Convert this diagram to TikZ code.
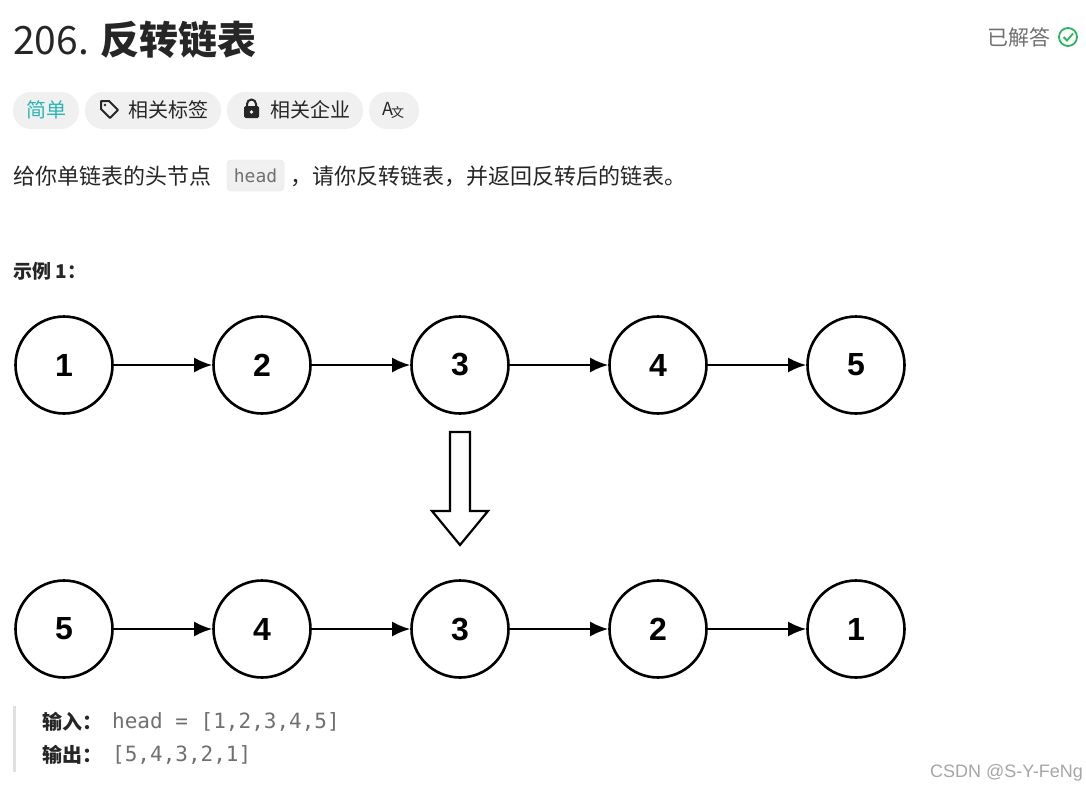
\documentclass[tikz,border=0pt]{standalone}
\usepackage{fontspec}
\setmainfont{Noto Sans CJK SC}
\newfontfamily\monof{DejaVu Sans Mono}
\newfontfamily\numf{Liberation Sans}
\usetikzlibrary{arrows.meta}
\definecolor{txt}{HTML}{262626}
\definecolor{gry}{HTML}{707070}
\definecolor{pill}{HTML}{F0F0F0}
\definecolor{teal}{HTML}{2DB5B5}
\definecolor{okg}{HTML}{2DB55D}
\tikzset{
  ln/.style={circle,draw=black,line width=2.6pt,minimum size=97pt,inner sep=0pt,font=\numf\bfseries\fontsize{32}{32}\selectfont},
  ar/.style={line width=2.4pt,-{Latex[length=18pt,width=15pt]}},
  pl/.style={fill=pill,rounded corners=18pt},
  tx/.style={anchor=west,inner sep=0pt,text=txt}
}
\begin{document}
\begin{tikzpicture}[x=1pt,y=-1pt]
\useasboundingbox (0,0) rectangle (1086,790);
\fill[white] (0,0) rectangle (1086,790);
\node[tx,font=\fontsize{39}{39}\selectfont] (title) at (13,40) {206. \textbf{反转链表}};
\node[anchor=east,inner sep=0pt,text=gry,font=\fontsize{21}{21}\selectfont] (solved) at (1051,38) {已解答};
\draw[okg,line width=1.8pt] (1068,37) circle (9);
\draw[okg,line width=1.8pt] (1063.5,37) -- (1067,40.5) -- (1073,33.5);
% pills
\fill[pl] (13,92) rectangle (79,129);
\node[tx,text=teal,font=\fontsize{20}{20}\selectfont] (t1) at (26,110) {简单};
\fill[pl] (85,92) rectangle (221,129);
\draw[txt,line width=2pt,line join=round] (101,101) -- (109,101) -- (118,110) -- (110,118) -- (101,109) -- cycle;
\fill[txt] (105,105) circle (1.4);
\node[tx,font=\fontsize{20}{20}\selectfont] (t2) at (128,110) {相关标签};
\fill[pl] (227,92) rectangle (363,129);
\node[tx,font=\fontsize{20}{20}\selectfont] (t3) at (270,110) {相关企业};
\fill[txt,rounded corners=1.5pt] (244,106) rectangle (259,118);
\draw[txt,line width=2pt] (247,106.5) -- (247,104) arc (180:360:4.5) -- (256,106.5);
\fill[pill] (251.5,112) circle (1.8);
\fill[pl] (369,92) rectangle (419,129);
\node[tx,font=\fontsize{18}{18}\selectfont] (t4) at (382,110) {A\kern-2pt\raisebox{-2pt}{\fontsize{13}{13}\selectfont 文}};
% description
\node[tx,font=\fontsize{22}{22}\selectfont] (d1) at (13,176) {给你单链表的头节点};
\fill[pill,draw=black!10,rounded corners=4pt] (227,160) rectangle (284,191);
\node[inner sep=0pt,text=gry,font=\monof\fontsize{18}{18}\selectfont] (hd) at (255.5,176) {head};
\node[tx,font=\fontsize{22}{22}\selectfont] (d2) at (290,176) {，请你反转链表，并返回反转后的链表。};
\node[tx,font=\bfseries\fontsize{19}{19}\selectfont] (ex) at (13,271) {示例 1：};
% lists
\foreach \v [count=\i] in {1,2,3,4,5}{
  \node[ln] (a\i) at ({64+198*(\i-1)},365) {\v};}
\foreach \v [count=\i] in {5,4,3,2,1}{
  \node[ln] (b\i) at ({64+198*(\i-1)},629) {\v};}
\foreach \i/\j in {1/2,2/3,3/4,4/5}{
  \draw[ar] (a\i) -- (a\j);
  \draw[ar] (b\i) -- (b\j);}
% big down arrow
\draw[line width=2.2pt,line join=miter,fill=white] (450,432) -- (470,432) -- (470,511) -- (488,511) -- (460,545) -- (432,511) -- (450,511) -- cycle;
% io block
\fill[black!12] (13,706) rectangle (16,772);
\node[tx,font=\bfseries\fontsize{20}{20}\selectfont] (inl) at (42,722) {输入：};
\node[tx,text=gry,font=\monof\fontsize{21}{21}\selectfont] (inv) at (112,722) {head = [1,2,3,4,5]};
\node[tx,font=\bfseries\fontsize{20}{20}\selectfont] (outl) at (42,755) {输出：};
\node[tx,text=gry,font=\monof\fontsize{21}{21}\selectfont] (outv) at (112,755) {[5,4,3,2,1]};
\node[anchor=east,inner sep=0pt,text=black!35,font=\numf\fontsize{18}{18}\selectfont] (wm) at (1083,773) {CSDN @S-Y-FeNg};
\end{tikzpicture}
\end{document}
